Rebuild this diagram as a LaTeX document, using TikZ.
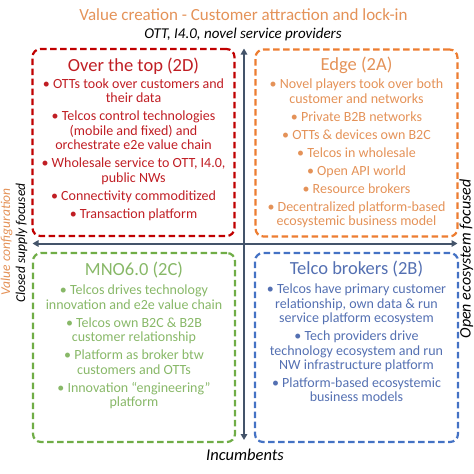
\documentclass[tikz,border=0pt]{standalone}
\usepackage{fontspec}
\setmainfont{Carlito}
\usetikzlibrary{arrows.meta}
\definecolor{redB}{RGB}{192,0,0}
\definecolor{redT}{RGB}{192,30,36}
\definecolor{orB}{RGB}{237,125,49}
\definecolor{orT}{RGB}{228,146,88}
\definecolor{grB}{RGB}{112,173,71}
\definecolor{grT}{RGB}{136,184,104}
\definecolor{blB}{RGB}{68,114,196}
\definecolor{blT}{RGB}{84,112,178}
\definecolor{axisC}{RGB}{68,84,106}
\begin{document}
\begin{tikzpicture}[x=1pt,y=-1pt,
  quad/.style={draw, dash pattern=on 6.5pt off 3.5pt, line width=2.2pt, rounded corners=8pt,
    minimum width=202pt, minimum height=187pt, inner sep=0pt},
  ttl/.style={anchor=base, inner sep=0pt, font=\fontsize{18.5}{21}\selectfont},
  body/.style={anchor=north, inner sep=0pt, align=center, font=\fontsize{14}{14.4}\selectfont},
  axis/.style={draw=axisC, line width=2pt,
    arrows={Triangle[length=6pt,width=6.5pt]-Triangle[length=6pt,width=6.5pt]}},
  side/.style={inner sep=0pt, anchor=base, rotate=90, font=\fontsize{13.5}{16}\selectfont\itshape}]
\useasboundingbox (0,0) rectangle (474,474);

% header
\node[anchor=base, inner sep=0pt, text=orT, font=\fontsize{17}{20}\selectfont] (hdr) at (243.5,20.5) {Value creation - Customer attraction and lock-in};
\node[anchor=base, inner sep=0pt, font=\fontsize{15}{18}\selectfont\itshape] (sub) at (243,38.5) {OTT, I4.0, novel service providers};

% quadrant boxes
\node[quad, draw=redB] (ott) at (133.5,142.5) {};
\node[quad, draw=orB] (edge) at (356.5,143) {};
\node[quad, draw=grB, minimum height=189pt] (mno) at (134,347.5) {};
\node[quad, draw=blB, minimum height=189pt, minimum width=203pt] (tb) at (356.5,347.5) {};

% red box text
\node[ttl, text=redT] (ottT) at (133.5,71) {Over the top (2D)};
\node[body, text=redT] (ottB) at (133.5,78.5) {• OTTs took over customers and\\their data\\[3.6pt]
• Telcos control technologies\\(mobile and fixed) and\\orchestrate e2e value chain\\[3.6pt]
• Wholesale service to OTT, I4.0,\\public NWs\\[3.6pt]
• Connectivity commoditized\\[3.6pt]
• Transaction platform};

% orange box text
\node[ttl, text=orT] (edgeT) at (356.5,70) {Edge (2A)};
\node[body, text=orT] (edgeB) at (356.5,79) {• Novel players took over both\\customer and networks\\[3.6pt]
• Private B2B networks\\[3.6pt]
• OTTs \& devices own B2C\\[3.6pt]
• Telcos in wholesale\\[3.6pt]
• Open API world\\[3.6pt]
• Resource brokers\\[3.6pt]
• Decentralized platform-based\\ecosystemic business model};

% green box text
\node[ttl, text=grT] (mnoT) at (134,275) {MNO6.0 (2C)};
\node[body, text=grT] (mnoB) at (134,285) {• Telcos drives technology\\innovation and e2e value chain\\[3.6pt]
• Telcos own B2C \& B2B\\customer relationship\\[3.6pt]
• Platform as broker btw\\customers and OTTs\\[3.6pt]
• Innovation “engineering”\\platform};

% blue box text
\node[ttl, text=blT] (tbT) at (356.5,274) {Telco brokers (2B)};
\node[body, text=blT] (tbB) at (356.5,284) {• Telcos have primary customer\\relationship, own data \& run\\service platform ecosystem\\[3.6pt]
• Tech providers drive\\technology ecosystem and run\\NW infrastructure platform\\[3.6pt]
• Platform-based ecosystemic\\business models};

% axes
\coordinate (vtop) at (244,48.5);
\coordinate (vbot) at (244,440);
\coordinate (hl) at (32.5,243.5);
\coordinate (hr) at (457.5,243.5);
\draw[axis] (vbot) -- (vtop);
\draw[axis] (hl) -- (hr);

% axis labels
\node[anchor=base, inner sep=0pt, font=\fontsize{16.5}{19}\selectfont\itshape] (inc) at (245,460.5) {Incumbents};
\node[side] (closed) at (25,243) {Closed supply focused};
\node[side, text=orT] (valconf) at (10,242) {Value configuration};
\node[side, font=\fontsize{16}{19}\selectfont\itshape] (open) at (470.5,259) {Open ecosystem focused};
\end{tikzpicture}
\end{document}
